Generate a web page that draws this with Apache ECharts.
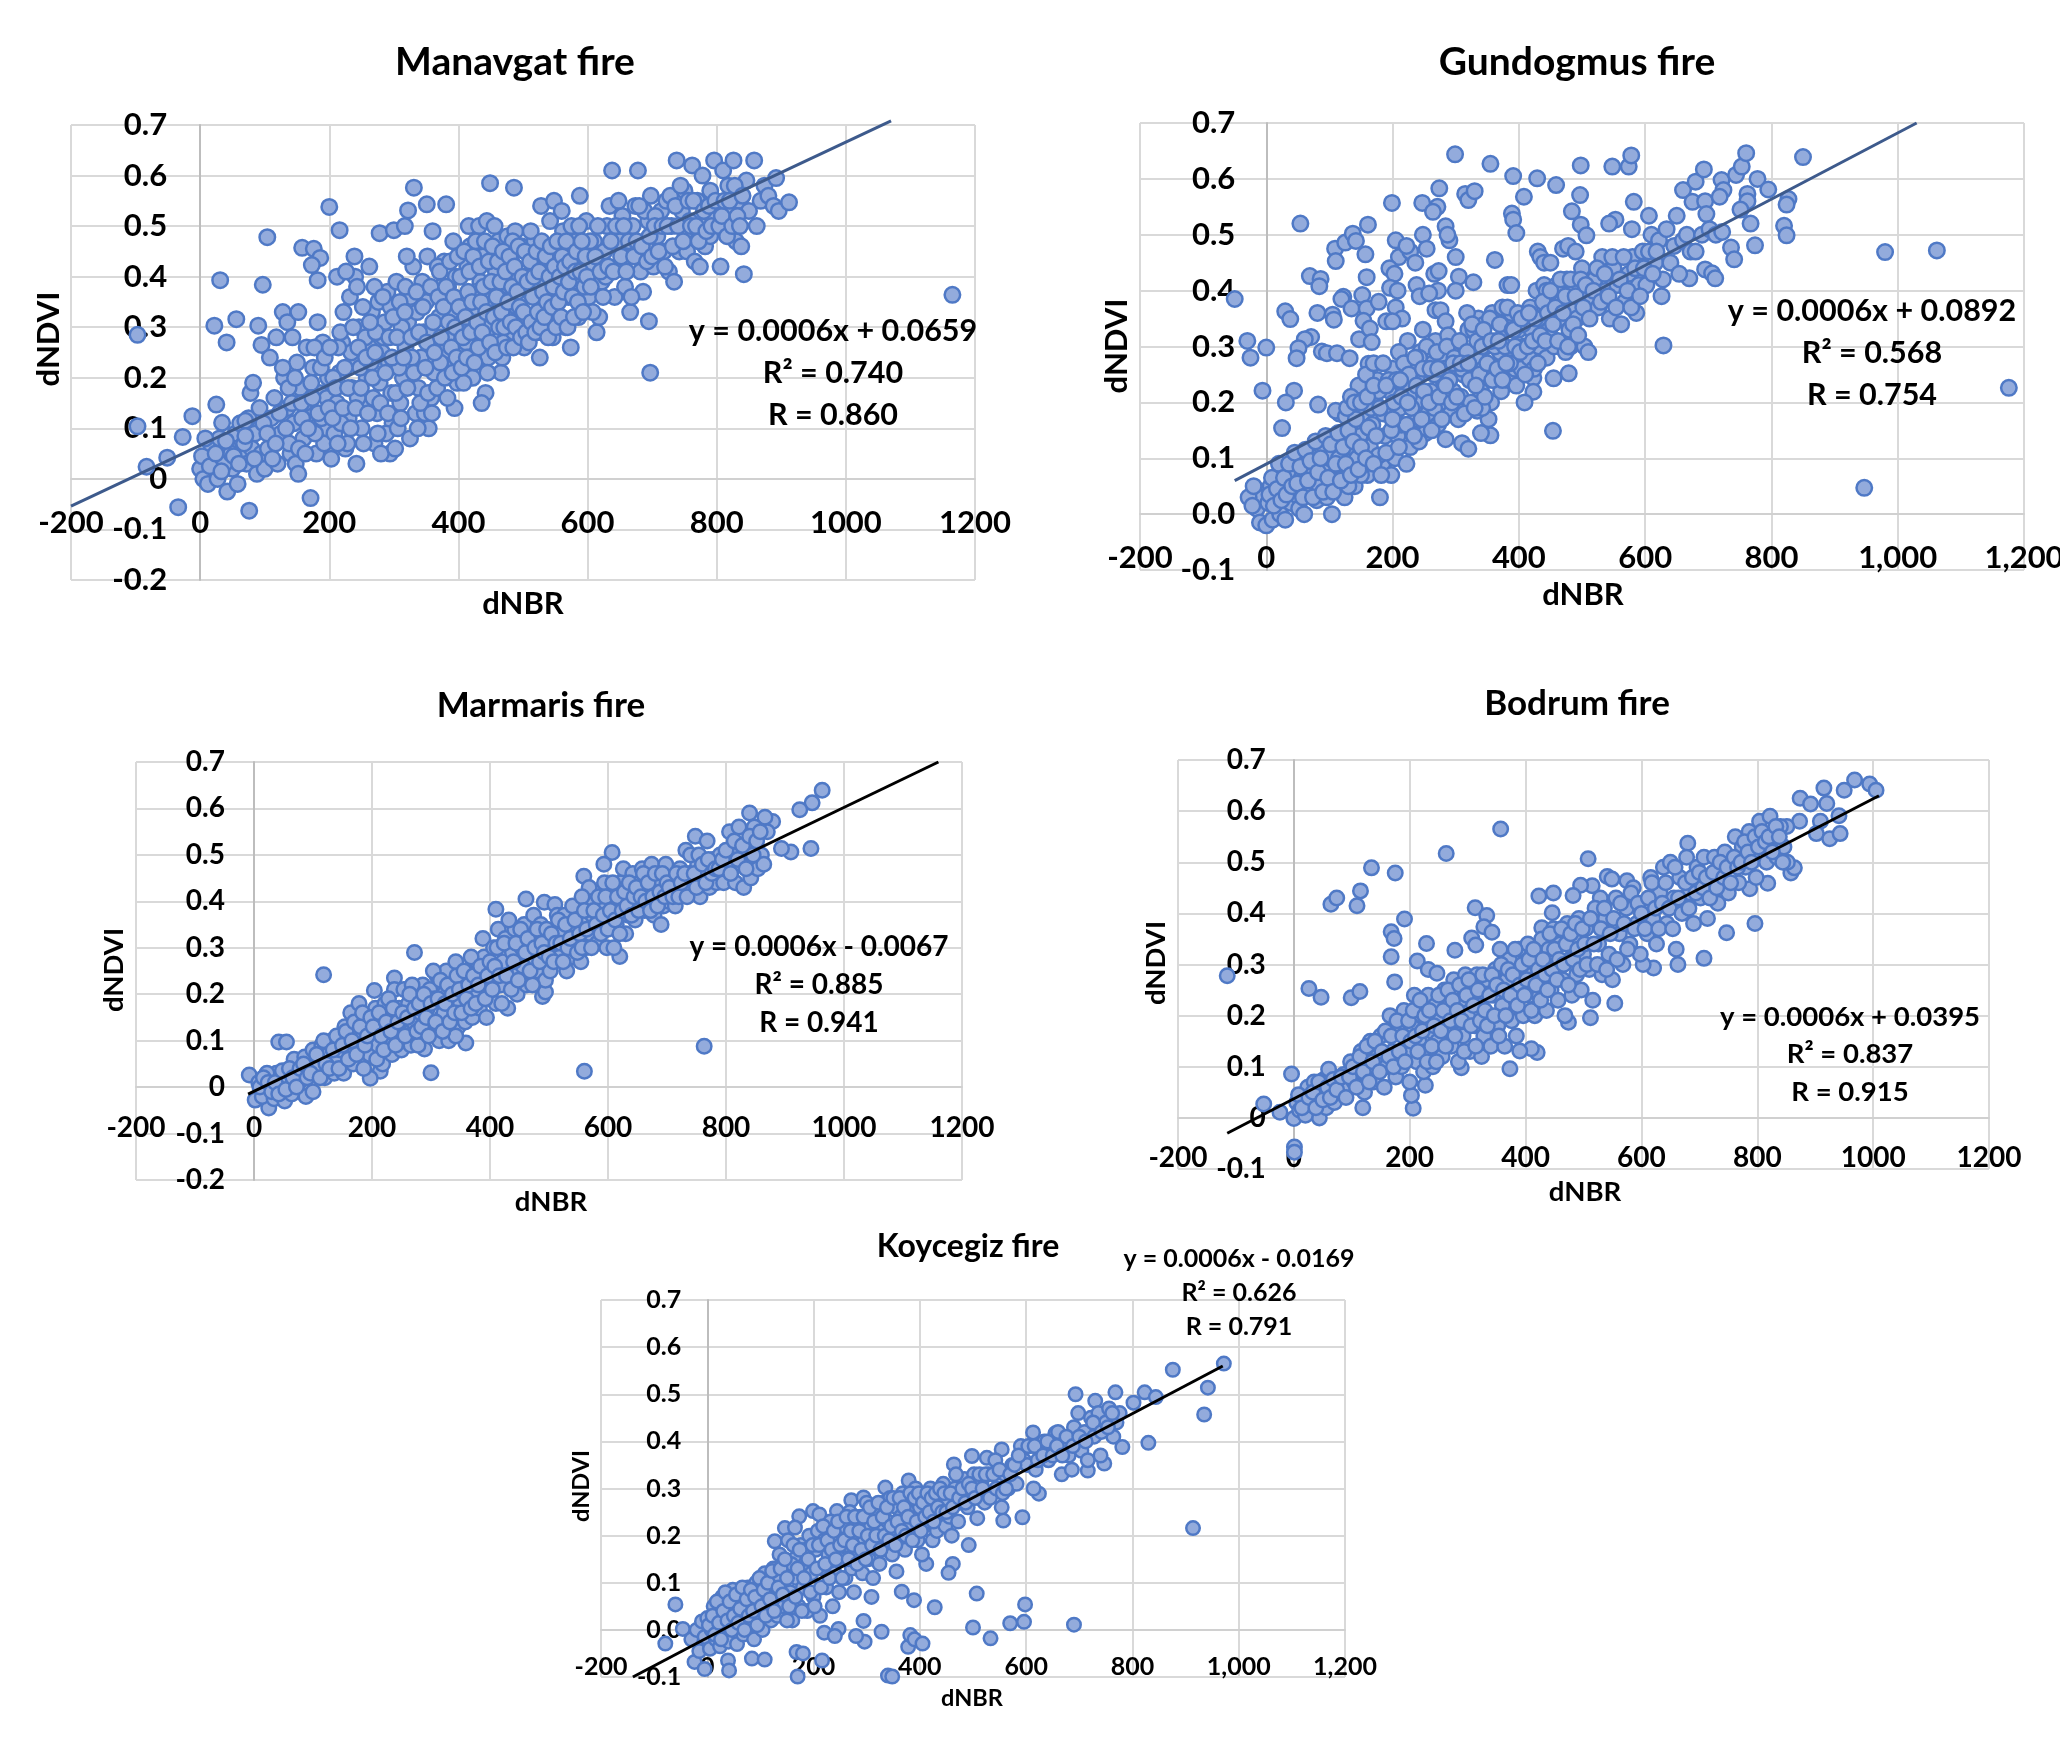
<!DOCTYPE html>
<html><head><meta charset="utf-8">
<style>html,body{margin:0;padding:0;background:#fff}#c{width:2060px;height:1753px}</style>
<script src="https://cdn.jsdelivr.net/npm/echarts@6/dist/echarts.min.js"></script></head>
<body><div id="c"></div>
<script>
const xTickPlain=['-200','0','200','400','600','800','1000','1200'];
const xTickComma=['-200','0','200','400','600','800','1,000','1,200'];
const yTickWide=['-0.2','-0.1','0','0.1','0.2','0.3','0.4','0.5','0.6','0.7'];
const yTickShort=['-0.1','0','0.1','0.2','0.3','0.4','0.5','0.6','0.7'];
const yTickDec=['-0.1','0.0','0.1','0.2','0.3','0.4','0.5','0.6','0.7'];

const manavgat=[[1165,.364],[697,.21],[695,.312],[-97,.285],[-97,.104],[-34,-.056],[76,-.063],[171,-.038],[-83,.024],[-51,.042],[-27,.083],[-12,.124],[25,.147],[34,.111],[22,.303],[56,.316],[41,.27],[31,.393],[97,.384],[104,.478],[90,.303],[95,.265],[158,.457],[176,.455],[186,.437],[173,.423],[182,.393],[200,.538],[216,.492],[331,.576],[449,.585],[486,.576],[239,.44],[278,.486],[300,.492],[317,.5],[322,.531],[351,.543],[381,.543],
[0,.02],[5,.0],[12,-.01],[20,.03],[27,.0],[35,.04],[42,-.025],[50,.02],[58,-.01],[65,.05],[72,.03],[80,.06],[88,.01],[18,.06],[30,.08],[8,.08],[45,.06],[55,.09],[62,.11],[75,.12],[85,.09],[95,.05],[100,.02],[92,.14],[78,.17],[82,.19],[70,.115],[38,.03],[48,.05],[68,.07],
[105,.06],[110,.12],[115,.16],[120,.03],[125,.09],[130,.2],[135,.14],[140,.05],[145,.11],[150,.23],[155,.18],[160,.08],[165,.26],[170,.13],[175,.22],[180,.05],[185,.17],[190,.27],[195,.1],[198,.2],[108,.24],[118,.28],[128,.33],[135,.31],[143,.28],[152,.33],[128,.22],[138,.07],[148,.03],[152,.01],[162,.15],[172,.19],[182,.31],[188,.12],[192,.07],[196,.16],[158,.12],[178,.09],
[203,.04],[208,.09],[212,.15],[216,.21],[220,.27],[225,.06],[230,.12],[235,.18],[238,.24],[242,.03],[246,.3],[250,.1],[254,.15],[258,.2],[262,.26],[266,.33],[270,.07],[274,.13],[278,.19],[282,.25],[286,.31],[290,.37],[294,.05],[298,.11],[222,.33],[232,.36],[240,.4],[212,.4],[226,.41],[243,.38],[262,.42],[270,.38],[280,.05],[288,.09],[296,.17],[292,.23],[284,.28],[276,.35],[268,.16],[256,.28],[248,.22],[244,.16],[234,.25],[214,.26],[206,.2],[218,.11],[228,.07],[252,.34],[265,.23],[272,.29],[295,.34],
[302,.06],[306,.1],[310,.15],[314,.2],[318,.26],[322,.31],[326,.36],[330,.42],[334,.13],[338,.18],[342,.24],[346,.29],[350,.35],[354,.1],[358,.16],[362,.21],[366,.27],[370,.32],[374,.38],[378,.43],[382,.28],[386,.23],[390,.33],[394,.14],[398,.19],[304,.39],[312,.3],[320,.44],[328,.24],[336,.33],[344,.39],[352,.44],[360,.49],[368,.42],[376,.25],[384,.38],[392,.47],[396,.4],[318,.38],[308,.22],[348,.13],[372,.23],[356,.29],
[402,.25],[406,.31],[410,.36],[414,.42],[418,.46],[422,.2],[426,.28],[430,.33],[434,.39],[438,.44],[442,.17],[446,.24],[450,.3],[454,.35],[458,.41],[462,.47],[466,.21],[470,.27],[474,.32],[478,.38],[482,.43],[486,.29],[490,.34],[494,.4],[498,.46],[408,.19],[416,.5],[432,.5],[444,.51],[456,.5],[468,.24],[476,.48],[488,.49],[496,.31],[412,.27],[428,.37],[448,.37],[464,.35],[484,.47],[436,.15],
[502,.26],[506,.32],[510,.37],[514,.43],[518,.47],[522,.29],[526,.24],[530,.35],[534,.41],[538,.46],[542,.51],[546,.28],[550,.34],[554,.39],[558,.44],[562,.49],[566,.3],[570,.36],[574,.26],[578,.42],[582,.47],[586,.32],[590,.37],[594,.44],[598,.51],[512,.49],[528,.54],[548,.55],[560,.53],[588,.56],[504,.4],[524,.38],[544,.43],[568,.41],[584,.39],
[602,.36],[606,.42],[610,.47],[614,.29],[618,.32],[622,.39],[626,.45],[630,.5],[634,.54],[638,.61],[642,.36],[646,.42],[650,.47],[654,.52],[658,.38],[662,.44],[666,.33],[670,.5],[674,.54],[678,.61],[682,.41],[686,.37],[690,.46],[694,.51],[698,.56],[608,.33],[628,.4],[648,.55],[668,.36],[688,.53],[604,.47],[644,.5],[664,.47],
[702,.42],[708,.48],[714,.53],[718,.45],[722,.55],[726,.41],[730,.5],[734,.39],[738,.63],[742,.45],[746,.53],[750,.57],[754,.45],[758,.51],[762,.62],[766,.43],[770,.55],[774,.42],[778,.6],[782,.46],[786,.52],[790,.57],[796,.63],[705,.52],[728,.56],[752,.49],[776,.5],[790,.48],
[802,.54],[806,.42],[810,.61],[814,.5],[818,.58],[822,.53],[826,.63],[830,.47],[834,.55],[838,.46],[842,.405],[846,.59],[850,.53],[858,.63],[862,.5],[868,.55],[874,.58],[880,.56],[888,.54],[892,.595],[896,.53],[912,.547]];
const manavgatDense=[[3,.045],[15,.025],[24,.05],[33,.015],[40,.075],[52,.045],[60,.03],[70,.085],[84,.04],[98,.11],[104,.09],[112,.04],[117,.07],[123,.13],[133,.1],[137,.18],[142,.15],[147,.2],[153,.06],[157,.15],[163,.05],[167,.1],[174,.16],[177,.26],[183,.13],[187,.22],[193,.24],[199,.14],[201,.26],[205,.12],[210,.18],[213,.07],[217,.29],[221,.14],[224,.22],[229,.18],[233,.1],[237,.3],[241,.14],[245,.26],[249,.18],[253,.07],[257,.24],[260,.13],[263,.31],[267,.2],[271,.25],[275,.09],[279,.15],[283,.36],[287,.21],[291,.13],[293,.28],[297,.24],[299,.32],
[303,.17],[305,.28],[309,.35],[311,.12],[315,.24],[317,.33],[321,.18],[325,.08],[327,.28],[331,.21],[335,.37],[337,.1],[339,.29],[341,.15],[345,.34],[349,.22],[351,.27],[353,.17],[357,.38],[359,.13],[361,.31],[363,.25],[367,.18],[369,.36],[371,.41],[373,.28],[377,.34],[379,.2],[381,.38],[383,.16],[385,.31],[387,.43],[389,.26],[391,.21],[393,.36],[395,.3],[397,.24],[399,.44],
[401,.34],[403,.4],[405,.22],[407,.28],[409,.45],[411,.32],[413,.24],[415,.37],[417,.41],[419,.29],[421,.35],[423,.44],[425,.23],[427,.47],[429,.31],[431,.26],[433,.42],[435,.35],[437,.29],[439,.38],[441,.47],[443,.33],[445,.21],[447,.43],[449,.27],[451,.39],[453,.46],[455,.32],[457,.25],[459,.36],[461,.43],[463,.3],[465,.39],[467,.33],[469,.45],[471,.3],[473,.41],[475,.26],[477,.35],[479,.44],[481,.31],[483,.38],[485,.26],[487,.42],[489,.3],[491,.37],[493,.46],[495,.34],[497,.28],[499,.4],
[501,.33],[503,.45],[505,.29],[507,.39],[509,.27],[511,.43],[513,.31],[515,.36],[517,.4],[519,.29],[521,.45],[523,.33],[525,.41],[527,.3],[529,.47],[531,.37],[533,.32],[535,.44],[537,.35],[539,.28],[541,.4],[543,.46],[545,.34],[547,.38],[549,.42],[551,.3],[553,.47],[555,.35],[557,.4],[559,.32],[561,.44],[563,.37],[565,.42],[567,.47],[569,.3],[571,.39],[573,.43],[575,.5],[577,.36],[579,.32],[581,.41],[583,.45],[585,.35],[587,.5],[589,.41],[591,.47],[593,.33],[595,.38],[597,.44],[599,.4],
[605,.38],[612,.44],[616,.5],[620,.41],[624,.36],[632,.42],[636,.47],[640,.41],[652,.44],[656,.5],[660,.41],[672,.44],[676,.47],[680,.54],[684,.46],[692,.43],[696,.48],[700,.44],[704,.5],[710,.45],[716,.5],[720,.42],[724,.5],[732,.46],[736,.54],[740,.5],[744,.58],[748,.47],[756,.55],[760,.5],[764,.55],[768,.5],[772,.47],[780,.53],[784,.49],[788,.54],[792,.5],[798,.55],[804,.5],[808,.52],[812,.55],[816,.48],[820,.55],[824,.5],[828,.58],[832,.52],[836,.5],[840,.56]];

const gundogmus=[[-50,.385],[-30,.31],[-25,.28],[0,.298],[-6,.221],[30,.363],[38,.349],[44,.221],[31,.2],[25,.154],[54,.52],[69,.426],[86,.421],[84,.408],[81,.36],[105,.357],[107,.348],[71,.317],[61,.313],[51,.297],[48,.279],[88,.291],[96,.288],[112,.288],[132,.279],[82,.196],[109,.475],[110,.453],[125,.486],[137,.502],[142,.489],[161,.518],[157,.465],[159,.424],[122,.389],[119,.385],[135,.368],[152,.392],[159,.368],[178,.38],[154,.346],[147,.313],[164,.332],[167,.308],[162,.269],[199,.557],[247,.557],[271,.55],[264,.541],[274,.583],[299,.644],[315,.573],[320,.562],[330,.578],[355,.627],[391,.605],[429,.601],[459,.589],[408,.568],[498,.624],[497,.571],[548,.622],[574,.622],[578,.642],[582,.559],[389,.538],[391,.527],[396,.503],[484,.542],[498,.518],[507,.499],[606,.534],[553,.527],[543,.52],[579,.51],[660,.58],[680,.595],[675,.559],[693,.617],[695,.56],[650,.534],[697,.537],[721,.598],[724,.58],[718,.568],[744,.607],[753,.622],[760,.646],[762,.573],[762,.56],[751,.545],[767,.52],[778,.6],[795,.581],[850,.639],[827,.564],[824,.554],[820,.516],[824,.499],[774,.481],[736,.477],[741,.456],[695,.438],[706,.431],[711,.422],[670,.422],[980,.469],[1062,.472],[1176,.226],[947,.047],[629,.302],[454,.149],[355,.141],[340,.145],[310,.127],[320,.117],[284,.134],[479,.252],[455,.243],[423,.244],[423,.219],[409,.2],
[205,.49],[210,.46],[195,.44],[203,.43],[196,.405],[208,.4],[205,.37],[215,.35],[190,.345],[200,.345],[228,.47],[236,.45],[222,.48],[238,.41],[243,.39],[248,.5],[254,.475],[266,.43],[273,.435],[272,.4],[258,.395],[268,.365],[276,.365],[284,.345],[290,.49],[284,.515],[287,.5],[300,.46],[305,.425],[300,.4],[328,.415],[362,.455],[382,.41],[388,.41],[430,.47],[434,.46],[440,.45],[450,.45],[470,.475],[478,.48],[490,.47],
[-15,.01],[-10,-.015],[-5,.03],[0,-.02],[3,.02],[7,.05],[10,-.01],[14,.03],[18,.07],[22,.0],[26,.045],[30,-.01],[35,.06],[39,.02],[43,.08],[47,.035],[52,.01],[56,.065],[60,.0],[64,.09],[68,.04],[72,.07],[76,.11],[80,.025],[84,.05],[88,.12],[92,.08],[96,.03],[100,.1],[104,.0],[-28,.03],[-20,.05],[-22,.015],
[108,.14],[112,.06],[116,.18],[120,.09],[124,.03],[128,.12],[132,.16],[136,.2],[140,.05],[144,.1],[148,.14],[152,.18],[156,.22],[160,.07],[164,.12],[168,.16],[172,.2],[176,.24],[180,.03],[184,.09],[188,.14],[192,.18],[196,.22],[200,.26],[110,.185],[126,.175],[146,.23],[158,.25],[170,.27],[185,.27],[198,.07],[178,.105],[150,.07],[130,.05],[115,.1],
[204,.1],[208,.14],[212,.19],[216,.23],[220,.27],[224,.31],[228,.12],[232,.16],[236,.2],[240,.25],[244,.29],[248,.33],[252,.145],[256,.18],[260,.22],[264,.27],[268,.31],[272,.16],[276,.2],[280,.24],[284,.29],[288,.32],[292,.18],[296,.22],[300,.26],[210,.29],[222,.09],[234,.26],[242,.13],[254,.3],[266,.19],[278,.28],[286,.21],[298,.3],[238,.17],[214,.16],[226,.21],
[304,.17],[308,.21],[312,.25],[316,.29],[320,.33],[324,.2],[328,.24],[332,.28],[336,.35],[340,.22],[344,.26],[348,.3],[352,.17],[356,.2],[360,.25],[364,.31],[368,.36],[372,.22],[376,.28],[380,.33],[384,.24],[388,.36],[392,.29],[396,.23],[400,.33],[318,.36],[334,.185],[346,.34],[358,.36],[374,.37],[394,.26],[342,.19],[328,.33],[370,.29],
[404,.26],[408,.3],[412,.35],[416,.28],[420,.33],[424,.26],[428,.4],[432,.3],[436,.35],[440,.41],[444,.28],[448,.33],[452,.37],[456,.3],[460,.41],[464,.35],[468,.38],[472,.31],[476,.42],[480,.33],[484,.37],[488,.41],[492,.35],[496,.39],[500,.44],[444,.4],[474,.29],[482,.3],[504,.3],[510,.29],[515,.38],[520,.42],[526,.37],[532,.46],[538,.4],[544,.35],[550,.44],[556,.41],[562,.34],[568,.38],[574,.43],[580,.46],[586,.36],[590,.41],[596,.47],[602,.41],[610,.5],[616,.45],[622,.49],[628,.42],[634,.51],[640,.45],[626,.39],[646,.48],[654,.43],[660,.49],[666,.5],[672,.47],[680,.47],[690,.5],[702,.51],[712,.5],[722,.505]];
const gundogmusDense=[[5,.035],[9,.065],[12,.015],[17,.045],[20,.09],[24,.025],[28,.065],[32,.035],[36,.09],[41,.05],[45,.11],[49,.055],[54,.085],[58,.03],[62,.115],[66,.06],[70,.095],[74,.03],[78,.13],[82,.075],[86,.1],[90,.04],[94,.14],[98,.065],[102,.125],[106,.04],[110,.09],[114,.145],[118,.06],[122,.12],[126,.09],[130,.15],[134,.07],[138,.13],[142,.17],[146,.08],[150,.12],[154,.2],[158,.1],[162,.155],[166,.19],[170,.09],[174,.14],[178,.22],[182,.07],[186,.18],[190,.11],[194,.24],[198,.15],[202,.2],[206,.24],[210,.12],[214,.21],[218,.27],[222,.16],[226,.25],[230,.19],[234,.14],[238,.23],[242,.28],[246,.17],[250,.22],[254,.26],[258,.2],[262,.15],[266,.25],[270,.29],[274,.21],[278,.17],[282,.26],[286,.3],[290,.24],[294,.2],[298,.28],[302,.21],[306,.31],[310,.26],[314,.18],[318,.29],[322,.24],[326,.34],[330,.19],[334,.31],[338,.25],[342,.3],[346,.21],[350,.27],[354,.35],[358,.24],[362,.3],[366,.26],[370,.34],[374,.24],[378,.3],[382,.37],[386,.27],[390,.33],[394,.3],[398,.36],[402,.29],[406,.34],[410,.25],[414,.3],[418,.37],[422,.31],[426,.35],[430,.27],[434,.32],[438,.38],[442,.31],[446,.36],[450,.4],[454,.34],[458,.37],[462,.31],[466,.42],[470,.36],[474,.39],[478,.3],[482,.42],[486,.34],[490,.39],[494,.32],[498,.42],[502,.37],[506,.41],[512,.35],[518,.4],[524,.44],[530,.38],[536,.43],[542,.39],[548,.46],[554,.37],[560,.42],[566,.46],[572,.4],[578,.37],[584,.44],[592,.39],[598,.44],[606,.47],[612,.43],[618,.47],
[128,.19],[134,.21],[140,.2],[150,.2],[160,.21],[170,.23],[180,.19],[190,.23],[200,.17],[212,.24],[224,.2],[236,.28],[248,.26],[260,.26],[272,.26],[284,.23],[296,.27],[308,.27],[320,.27],[332,.23],[344,.33],[356,.31],[368,.31],[380,.27],[392,.33],[404,.35],[416,.36]];

const marmaris=[[-8,.026],[42,.097],[55,.097],[118,.242],[272,.29],[300,.031],[560,.034],[763,.088],[963,.639],[946,.612],[925,.597],[944,.514],[910,.506],[894,.514],[879,.572],[866,.581],[840,.59],[607,.505],[593,.48],[559,.454],[461,.405],[492,.398],[510,.393],[410,.383],[620,.281],[489,.195],[494,.205],[359,.095],[289,.082],[214,.034],[197,.019],[25,-.045],[2,-.028],[238,.235],[204,.208],
[8,.01],[14,-.02],[20,.025],[28,.0],[34,-.025],[38,.03],[46,.01],[52,-.03],[58,.02],[64,-.015],[70,.05],[76,.01],[82,.03],[88,-.02],[94,.06],[100,-.01],[68,.06],[56,.035],[86,.065],[100,.08],[22,.03],
[104,.03],[110,.05],[115,.09],[120,.02],[126,.07],[132,.1],[136,.03],[142,.06],[148,.11],[152,.03],[158,.08],[164,.16],[168,.05],[172,.12],[178,.18],[182,.09],[186,.04],[190,.14],[196,.07],[200,.11],[154,.13],[146,.08],[176,.09],[118,.1],
[206,.17],[210,.09],[214,.13],[218,.05],[222,.18],[226,.1],[230,.15],[234,.07],[238,.21],[242,.11],[246,.17],[250,.08],[254,.21],[258,.13],[262,.18],[266,.09],[270,.14],[274,.2],[278,.1],[282,.16],[286,.22],[290,.12],[294,.17],[298,.21],[208,.06],[228,.19],[248,.14],[268,.22],[278,.09],
[302,.13],[306,.19],[310,.24],[314,.1],[318,.15],[322,.2],[326,.25],[330,.1],[334,.17],[338,.22],[342,.27],[346,.13],[350,.18],[354,.23],[358,.14],[362,.2],[366,.25],[370,.15],[374,.21],[378,.27],[382,.17],[386,.23],[390,.28],[394,.15],[398,.2],[304,.25],[322,.16],[342,.11],[368,.28],[388,.32],
[402,.25],[406,.3],[410,.18],[414,.34],[418,.22],[422,.27],[426,.32],[430,.17],[434,.24],[438,.29],[442,.34],[446,.2],[450,.25],[454,.3],[458,.35],[462,.22],[466,.27],[470,.32],[474,.37],[478,.25],[482,.3],[486,.35],[490,.27],[494,.23],[498,.31],[432,.36],[456,.26],[472,.22],
[502,.25],[506,.29],[510,.34],[514,.37],[518,.28],[522,.33],[526,.37],[530,.25],[534,.31],[538,.35],[542,.28],[546,.32],[550,.38],[554,.27],[558,.36],[562,.3],[566,.4],[570,.33],[574,.37],[578,.42],[582,.31],[586,.35],[590,.4],[594,.44],[598,.3],[540,.39],[568,.43],[556,.41],
[602,.37],[606,.41],[610,.3],[614,.35],[618,.39],[622,.44],[626,.47],[630,.33],[634,.37],[638,.42],[642,.46],[646,.36],[650,.4],[654,.44],[658,.47],[662,.38],[666,.42],[670,.46],[674,.48],[678,.37],[682,.41],[686,.44],[690,.35],[694,.39],[698,.48],
[702,.4],[708,.45],[714,.39],[718,.43],[722,.47],[726,.42],[732,.51],[738,.46],[742,.43],[748,.54],[752,.48],[756,.41],[762,.46],[768,.53],[772,.43],[778,.49],[784,.44],[790,.5],[796,.44],[802,.47],[806,.55],[810,.5],[816,.44],[822,.56],[826,.48],[830,.43],[836,.52],[842,.45],[848,.56],[854,.47],[860,.5],[864,.48],[870,.55]];
const marmarisDense=[[10,.0],[16,.02],[24,.01],[30,-.01],[36,.01],[42,-.015],[48,.035],[54,-.005],[60,.04],[66,.02],[72,.0],[78,.04],[84,.05],[90,.02],[96,.03],[106,.07],[112,.02],[122,.05],[128,.04],[134,.08],[140,.11],[144,.04],[150,.09],[156,.12],[160,.06],[166,.1],[170,.14],[174,.07],[180,.13],[184,.16],[188,.09],[192,.11],[198,.15],[202,.13],[212,.16],[216,.11],[220,.08],[224,.14],[232,.12],[236,.17],[240,.09],[244,.14],[252,.16],[256,.11],[260,.15],[264,.2],[272,.17],[276,.12],[280,.18],[284,.13],[288,.2],[292,.15],[296,.11],[300,.18],[308,.14],[312,.19],[316,.23],[320,.12],[324,.18],[328,.22],[332,.14],[336,.2],[340,.16],[344,.24],[348,.21],[352,.16],[356,.25],[360,.19],[364,.22],[368,.17],[372,.24],[376,.18],[380,.22],[384,.26],[392,.19],[396,.24],[400,.27],[404,.21],[408,.26],[412,.3],[416,.24],[420,.18],[424,.31],[428,.24],[436,.21],[440,.27],[444,.31],[448,.23],[452,.34],[460,.29],[464,.32],[468,.25],[476,.3],[480,.34],[484,.27],[488,.31],[492,.29],[496,.34],[500,.28],[504,.33],[508,.27],[512,.31],[516,.36],[520,.31],[524,.27],[528,.35],[532,.3],[536,.32],[544,.36],[548,.29],[552,.33],[556,.3],[560,.38],[564,.34],[572,.3],[576,.38],[580,.35],[584,.41],[588,.33],[592,.37],[596,.41],[600,.34],[604,.38],[608,.44],[612,.36],[616,.41],[620,.33],[624,.38],[628,.42],[632,.39],[636,.44],[640,.37],[644,.41],[648,.43],[652,.38],[656,.41],[660,.46],[664,.4],[668,.44],[672,.38],[676,.41],[680,.46],[684,.39],[688,.42],[692,.46],[696,.41],[700,.44],[704,.43],[710,.41],[716,.46],[720,.41],[724,.44],[730,.46],[734,.41],[740,.5],[746,.46],[750,.43],[754,.5],[760,.48],[766,.44],[770,.49],[776,.46],[782,.47],[788,.47],[794,.49],[800,.51],[808,.46],[814,.53],[820,.49],[828,.52],[834,.47],[840,.54],[846,.5],[852,.53],[858,.55]];

const bodrum=[[-115,.278],[-52,.027],[-24,.011],[-4,.086],[1,-.057],[1,-.067],[26,.253],[47,.236],[99,.235],[114,.247],[64,.418],[74,.43],[109,.415],[115,.444],[134,.489],[175,.479],[168,.364],[173,.351],[168,.315],[174,.266],[191,.389],[213,.307],[229,.341],[232,.29],[247,.283],[263,.517],[278,.328],[357,.565],[313,.411],[333,.396],[328,.374],[342,.363],[307,.352],[314,.338],[423,.434],[448,.44],[446,.401],[428,.372],[508,.507],[541,.472],[549,.467],[515,.454],[495,.455],[482,.435],[529,.43],[680,.537],[575,.464],[747,.362],[796,.38],[708,.312],[621,.293],[603,.3],[663,.3],[554,.224],[512,.196],[474,.187],[420,.128],[410,.135],[390,.131],[373,.096],[289,.098],[206,.019],[203,.044],[227,.064],[119,.02],[44,0],[0,-.001],[874,.625],[892,.614],[915,.645],[920,.615],[950,.641],[968,.661],[994,.653],[1005,.641],[941,.591],[909,.58],[902,.556],[925,.546],[943,.556],[873,.58],[851,.57],[858,.479],[864,.489],[818,.459],[787,.448],
[5,.03],[10,.015],[16,.04],[20,.005],[24,.06],[30,.025],[35,.07],[40,.03],[46,.05],[52,.075],[56,.02],[60,.095],[66,.05],[70,.03],[76,.07],[80,.05],[86,.085],[92,.055],[98,.11],[104,.07],[110,.09],[116,.13],[122,.05],[128,.1],[132,.15],[138,.07],[144,.12],[150,.16],[156,.06],[160,.1],[166,.2],[170,.13],[176,.08],[180,.17],[186,.1],[190,.21],[196,.13],[200,.07],
[204,.18],[208,.24],[212,.11],[216,.15],[220,.2],[224,.09],[228,.13],[232,.24],[236,.17],[240,.1],[244,.22],[248,.15],[252,.19],[256,.12],[260,.25],[264,.17],[268,.22],[272,.14],[276,.27],[280,.19],[284,.11],[288,.23],[292,.16],[296,.28],[300,.2],[304,.13],[308,.25],[312,.18],[316,.28],[320,.22],[324,.12],[328,.16],[332,.27],[336,.2],[340,.14],[344,.24],[348,.29],[352,.18],[356,.33],[360,.22],[364,.14],[368,.27],[372,.31],[376,.19],[380,.24],[384,.16],[388,.33],[392,.27],[396,.2],[400,.3],
[404,.34],[408,.24],[412,.28],[416,.2],[420,.31],[424,.24],[428,.35],[432,.27],[436,.21],[440,.33],[444,.25],[448,.37],[452,.29],[456,.23],[460,.34],[464,.27],[468,.2],[472,.38],[476,.31],[480,.24],[484,.35],[488,.28],[492,.39],[496,.25],[500,.32],[504,.37],[510,.29],[516,.23],[520,.41],[526,.34],[532,.28],[538,.39],[544,.32],[550,.27],[556,.43],[562,.36],[568,.3],[574,.41],[580,.34],[586,.45],[592,.38],[598,.32],
[604,.42],[610,.36],[616,.47],[620,.39],[626,.34],[632,.44],[638,.49],[644,.38],[650,.5],[656,.43],[660,.33],[666,.47],[672,.41],[678,.51],[684,.44],[690,.38],[696,.49],[702,.43],[708,.51],[714,.39],[720,.46],[726,.51],[732,.42],[738,.48],[744,.52],[750,.44],[756,.5],[762,.55],[768,.46],[774,.53],[780,.49],[786,.56],[792,.52],[798,.47],[804,.58],[810,.53],[816,.5],[822,.59],[828,.55],[834,.51],[840,.57],[846,.53],[852,.5]];
const bodrumDense=[[8,.045],[14,.02],[26,.04],[33,.05],[38,.02],[43,.07],[50,.035],[58,.06],[63,.04],[68,.075],[74,.055],[82,.08],[90,.04],[96,.08],[102,.1],[108,.06],[114,.12],[120,.09],[126,.14],[130,.07],[136,.11],[140,.15],[148,.09],[152,.13],[158,.17],[164,.12],[168,.16],[172,.1],[178,.19],[182,.13],[188,.16],[192,.11],[198,.19],[202,.15],[206,.21],[210,.16],[214,.13],[218,.23],[222,.17],[226,.2],[230,.11],[234,.21],[238,.14],[242,.18],[246,.11],[250,.24],[254,.17],[258,.21],[262,.14],[266,.25],[270,.19],[274,.23],[278,.16],[282,.21],[286,.26],[290,.19],[294,.13],[298,.24],[302,.27],[306,.18],[310,.22],[314,.14],[318,.25],[322,.19],[326,.28],[330,.21],[334,.18],[338,.24],[342,.28],[346,.2],[350,.26],[354,.16],[358,.3],[362,.25],[366,.2],[370,.29],[374,.24],[378,.28],[382,.33],[386,.22],[390,.26],[394,.3],[398,.24],[402,.27],[406,.31],[410,.21],[414,.33],[418,.26],[422,.29],[426,.23],[430,.31],[434,.28],[438,.25],[442,.36],[446,.29],[450,.33],[454,.27],[458,.31],[462,.37],[466,.3],[470,.34],[474,.26],[478,.36],[482,.31],[486,.38],[490,.33],[494,.29],[498,.37],[502,.34],[506,.3],[512,.39],[518,.34],[524,.3],[530,.37],[536,.41],[540,.29],[546,.36],[552,.39],[558,.31],[564,.42],[570,.38],[576,.33],[582,.44],[588,.37],[594,.42],[600,.4],[606,.37],[612,.43],[618,.46],[624,.41],[630,.37],[636,.42],[642,.46],[648,.41],[654,.37],[658,.49],[664,.43],[670,.4],[676,.46],[682,.41],[688,.47],[694,.44],[700,.48],[706,.45],[712,.47],[718,.43],[724,.48],[730,.45],[736,.5],[742,.47],[748,.49],[754,.46],[760,.51],[766,.49],[772,.5],[778,.54],[784,.52],[790,.5],[796,.55],[802,.53],[808,.56],[814,.54],[820,.55],[826,.52],[832,.57],[838,.55],[844,.5]];

const koycegiz=[[-79,-.029],[-60,.054],[-46,.002],[-24,-.068],[-5,-.083],[39,-.065],[41,-.086],[84,-.061],[108,-.063],[168,-.047],[180,-.05],[170,-.099],[216,-.065],[340,-.097],[348,-.099],[378,-.036],[382,-.011],[390,-.02],[405,-.029],[328,-.004],[294,.019],[296,-.025],[280,-.013],[247,.002],[220,-.006],[240,-.013],[366,.081],[389,.063],[428,.048],[309,.07],[507,.077],[598,.054],[570,.014],[596,.017],[500,.005],[533,-.018],[690,.011],[914,.216],[830,.397],[935,.457],[942,.514],[972,.565],[876,.552],[693,.5],[823,.504],[844,.494],[802,.482],[768,.504],[730,.486],[781,.388],[335,.302],[379,.317],[464,.351],[498,.369],[526,.365],[554,.383],[613,.419],[655,.417],[492,.18],[462,.14],[454,.121],[412,.14],[356,.124],[508,.237],[557,.232],[593,.239],[624,.289],[667,.33],[686,.34],[716,.338],[747,.353],[173,.241],[199,.252],[211,.245],[146,.216],[165,.217],[127,.188],[244,.252],[271,.275],[294,.281],
[-30,-.02],[-20,.0],[-15,-.045],[-10,.018],[-5,-.015],[0,.025],[5,-.04],[8,.0],[12,.05],[16,-.02],[20,.03],[24,-.035],[28,.07],[32,.01],[36,.045],[40,-.025],[44,.015],[48,.085],[52,.05],[56,-.03],[60,.02],[64,.07],[68,-.01],[72,.04],[76,.09],[80,.01],[84,.06],[88,-.02],[92,.1],[96,.03],[100,.07],[104,.0],[108,.12],[112,.05],[116,.085],[120,.02],[124,.13],[128,.07],[132,.03],[136,.16],[140,.1],[144,.05],[148,.13],[152,.19],[156,.08],[160,.02],[164,.15],[168,.11],[172,.05],[176,.18],[180,.09],[184,.14],[188,.04],[192,.2],[196,.12],[200,.07],[130,.11],[158,.14],[186,.17],[150,.02],
[204,.17],[208,.21],[212,.03],[216,.13],[220,.19],[224,.09],[228,.16],[232,.23],[236,.05],[240,.12],[244,.19],[248,.08],[252,.15],[256,.22],[260,.11],[264,.18],[268,.25],[272,.13],[276,.08],[280,.2],[284,.16],[288,.24],[292,.12],[296,.19],[300,.27],[304,.15],[308,.22],[312,.11],[316,.18],[320,.25],[324,.14],[328,.21],[332,.27],[336,.17],[340,.23],[344,.28],[348,.16],[352,.21],[356,.26],[360,.19],[364,.24],[368,.29],[372,.17],[376,.22],[380,.27],[384,.2],[388,.25],[392,.3],[396,.19],[400,.26],
[404,.16],[408,.22],[412,.28],[416,.23],[420,.3],[424,.19],[428,.26],[432,.21],[436,.29],[440,.24],[444,.31],[448,.22],[452,.27],[456,.24],[460,.2],[466,.3],[472,.23],[478,.27],[484,.32],[490,.26],[496,.29],[502,.33],[510,.28],[516,.31],[522,.27],[530,.33],[536,.29],[542,.36],[548,.3],[554,.26],[560,.33],[566,.3],[574,.35],[582,.31],[590,.39],[596,.36],[602,.35],[608,.39],[614,.3],[618,.34],[626,.38],[634,.4],[642,.36],[648,.39],[660,.42],[670,.39],[680,.37],[690,.43],[698,.46],[704,.38],[710,.42],[716,.36],[722,.45],[728,.41],[736,.46],[740,.37],[750,.44],[756,.47],[764,.41],[770,.44],[776,.46]];
const koycegizDense=[[3,.01],[10,.03],[14,-.01],[18,.06],[22,.015],[26,-.02],[30,.04],[34,.08],[38,.02],[42,.06],[46,.0],[50,.03],[54,.075],[58,.015],[62,.045],[66,.09],[70,.0],[74,.065],[78,.03],[82,.085],[86,.04],[90,.07],[94,.01],[98,.11],[102,.05],[106,.085],[110,.03],[114,.1],[118,.065],[122,.125],[126,.04],[134,.09],[138,.13],[142,.075],[146,.15],[150,.11],[154,.05],[162,.18],[166,.07],[170,.13],[174,.17],[178,.04],[182,.11],[190,.15],[194,.08],[198,.18],[202,.05],[206,.13],[210,.18],[214,.09],[218,.22],[222,.14],[226,.19],[230,.11],[234,.17],[238,.21],[242,.15],[246,.23],[250,.18],[254,.11],[258,.19],[262,.24],[266,.15],[270,.21],[274,.18],[278,.24],[282,.14],[286,.21],[290,.17],[294,.24],[298,.15],[302,.2],[306,.26],[310,.18],[314,.23],[318,.2],[322,.27],[326,.17],[330,.24],[334,.2],[338,.26],[342,.19],[346,.22],[350,.28],[354,.18],[358,.23],[362,.28],[366,.21],[370,.26],[374,.2],[378,.24],[382,.29],[386,.19],[390,.28],[394,.23],[398,.29],[402,.21],[406,.27],[410,.24],[414,.29],[418,.25],[422,.28],[426,.23],[430,.29],[434,.26],[438,.3],[442,.25],[446,.29],[450,.25],[458,.29],[462,.26],[468,.33],[474,.28],[480,.3],[486,.27],[492,.31],[498,.3],[504,.28],[512,.33],[518,.3],[524,.33],[532,.28],[538,.33],[544,.3],[550,.34],[556,.29],[562,.3],[570,.33],[578,.35],[586,.37],[604,.39],[616,.39],[622,.36],[632,.37],[640,.4],[650,.37],[658,.39],[668,.37],[676,.41],[688,.39],[700,.41],[712,.4],[726,.44],[742,.42],[754,.43],[762,.46]];

const trendX=[[-200,1070],[-50,1030],[-10,1160],[-115,1010],[-140,970]];
const trendY=[[-.054,.708],[.06,.7],[-.015,.7],[-.03,.63],[-.1,.56]];
const titles=['Manavgat fire','Gundogmus fire','Marmaris fire','Bodrum fire','Koycegiz fire'];
const equations=[['y = 0.0006x + 0.0659','R² = 0.740','R = 0.860'],['y = 0.0006x + 0.0892','R² = 0.568','R = 0.754'],['y = 0.0006x - 0.0067','R² = 0.885','R = 0.941'],['y = 0.0006x + 0.0395','R² = 0.837','R = 0.915'],['y = 0.0006x - 0.0169','R² = 0.626','R = 0.791']];

const FONT='Lato';
const panels=[
 {d:manavgat.concat(manavgatDense),g:[71,125,904,455],yMin:-.2,yL:yTickWide,xL:xTickPlain,fs:31,tfs:39,efs:30.5,lfs:31,yM:33,xM:29,ms:15.5,line:'#3d5a8c',
  title:[515,62],eq:[833,331,42],xn:[523,604],yn:[49,339]},
 {d:gundogmus.concat(gundogmusDense),g:[1140,123,884,447],yMin:-.1,yL:yTickDec,xL:xTickComma,fs:31,tfs:39,efs:30.5,lfs:31,yM:31,xM:28,ms:15.5,line:'#3d5a8c',
  title:[1577,62],eq:[1872,311,42],xn:[1583,595],yn:[1117,346]},
 {d:marmaris.concat(marmarisDense),g:[136,762,826,418],yMin:-.2,yL:yTickWide,xL:xTickPlain,fs:28,tfs:35,efs:28,lfs:27.5,yM:29,xM:27,ms:14.5,line:'#000',
  title:[541,706],eq:[819,947,38],xn:[551,1202],yn:[114,970]},
 {d:bodrum.concat(bodrumDense),g:[1178,760,811,409],yMin:-.1,yL:yTickShort,xL:xTickPlain,fs:28,tfs:35,efs:27.5,lfs:27.5,yM:28,xM:26,ms:14.5,line:'#000',
  title:[1577,704],eq:[1850,1017,37.5],xn:[1585,1192],yn:[1156,963]},
 {d:koycegiz.concat(koycegizDense),g:[601,1300,744,377],yMin:-.1,yL:yTickDec,xL:xTickComma,fs:25,tfs:32,efs:25,lfs:23.5,yM:26,xM:25,ms:13.5,line:'#000',
  title:[968,1247],eq:[1239,1259,34],xn:[972,1698],yn:[581,1486]}
];
const grid=[],xAxis=[],yAxis=[],series=[],graphic=[];
function txt(t,x,y,size,rot){graphic.push({type:'text',x,y,rotation:rot||0,z:10,style:{text:t,fill:'#000',font:'bold '+size+'px '+FONT,textAlign:'center',textVerticalAlign:'middle'}});}
panels.forEach((p,i)=>{
 grid.push({left:p.g[0],top:p.g[1],width:p.g[2],height:p.g[3],containLabel:false,show:false,outerBoundsMode:'none'});
 // tick labels sit next to the zero lines, as in the spreadsheet chart
 const zeroFromLeft=p.g[2]*200/1400, zeroFromBottom=p.g[3]*(-p.yMin)/(.7-p.yMin);
 xAxis.push({type:'value',gridIndex:i,min:-200,max:1200,interval:200,
  axisLine:{show:true,onZero:true,lineStyle:{color:'#d0d0d0',width:2}},axisTick:{show:false},
  splitLine:{show:true,lineStyle:{color:'#d9d9d9',width:2}},
  axisLabel:{margin:p.xM-zeroFromBottom,fontFamily:FONT,fontWeight:'bold',fontSize:p.fs,color:'#000',showMinLabel:true,showMaxLabel:true,hideOverlap:false,
   formatter:v=>p.xL[Math.round((v+200)/200)]}});
 yAxis.push({type:'value',gridIndex:i,min:p.yMin,max:.7,interval:.1,
  axisLine:{show:true,onZero:true,lineStyle:{color:'#bdbdbd',width:2}},axisTick:{show:false},
  splitLine:{show:true,lineStyle:{color:'#d9d9d9',width:2}},
  axisLabel:{margin:p.yM-zeroFromLeft,fontFamily:FONT,fontWeight:'bold',fontSize:p.fs,color:'#000',showMinLabel:true,showMaxLabel:true,hideOverlap:false,
   formatter:v=>p.yL[Math.round((v-p.yMin)*10)]}});
 series.push({type:'scatter',xAxisIndex:i,yAxisIndex:i,data:p.d,symbol:'circle',symbolSize:p.ms,clip:false,silent:true,large:false,
  itemStyle:{color:'#93abdc',borderColor:'#4f79c6',borderWidth:2.5,opacity:1},z:3});
 series.push({type:'line',xAxisIndex:i,yAxisIndex:i,data:[[trendX[i][0],trendY[i][0]],[trendX[i][1],trendY[i][1]]],symbol:'none',silent:true,clip:false,
  lineStyle:{color:p.line,width:3},z:4});
 txt(titles[i],p.title[0],p.title[1],p.tfs);
 equations[i].forEach((e,k)=>txt(e,p.eq[0],p.eq[1]+k*p.eq[2],p.efs));
 txt('dNBR',p.xn[0],p.xn[1],p.lfs);
 txt('dNDVI',p.yn[0],p.yn[1],p.lfs,Math.PI/2);
});
const chart=echarts.init(document.getElementById('c'),null,{renderer:'canvas'});
chart.setOption({animation:false,backgroundColor:'#fff',grid,xAxis,yAxis,series,graphic,tooltip:{show:false}});
</script></body></html>
